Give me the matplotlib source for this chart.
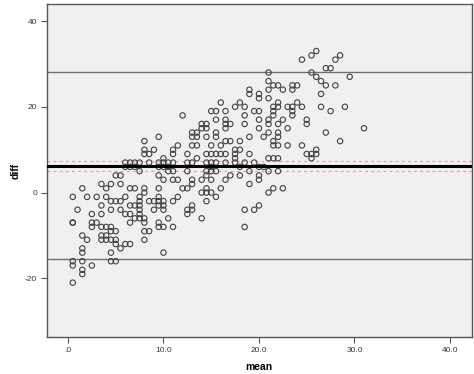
import matplotlib
matplotlib.use("Agg")
import matplotlib.pyplot as plt

plt.rcParams['font.family'] = ['Liberation Sans', 'DejaVu Sans']

# ---- data (mean of two measures, difference) ----
mean_vals = [
    0.5, 0.5, 0.5, 0.5, 0.5, 0.5,
    1.0,
    1.5, 1.5, 1.5, 1.5, 1.5, 1.5, 1.5,
    2.0, 2.0,
    2.5, 2.5, 2.5, 2.5,
    3.0, 3.0,
    3.5, 3.5, 3.5, 3.5, 3.5, 3.5,
    4.0, 4.0, 4.0, 4.0, 4.0,
    4.5, 4.5, 4.5, 4.5, 4.5, 4.5, 4.5, 4.5,
    5.0, 5.0, 5.0, 5.0, 5.0, 5.0,
    5.5, 5.5, 5.5, 5.5, 5.5,
    6.0, 6.0, 6.0, 6.0, 6.0,
    6.5, 6.5, 6.5, 6.5, 6.5, 6.5, 6.5,
    7.0, 7.0, 7.0, 7.0, 7.0,
    7.5, 7.5, 7.5, 7.5, 7.5, 7.5, 7.5, 7.5,
    8.0, 8.0, 8.0, 8.0, 8.0, 8.0, 8.0, 8.0, 8.0,
    8.5, 8.5, 8.5, 8.5,
    9.0, 9.0, 9.0,
    9.5, 9.5, 9.5, 9.5, 9.5, 9.5, 9.5, 9.5, 9.5, 9.5,
    10.0, 10.0, 10.0, 10.0, 10.0, 10.0, 10.0, 10.0, 10.0,
    10.5, 10.5, 10.5, 10.5,
    11.0, 11.0, 11.0, 11.0, 11.0, 11.0, 11.0,
    11.5, 11.5, 11.5,
    12.0, 12.0,
    12.5, 12.5, 12.5, 12.5, 12.5, 12.5,
    13.0, 13.0, 13.0, 13.0, 13.0, 13.0, 13.0, 13.0,
    13.5, 13.5, 13.5, 13.5,
    14.0, 14.0, 14.0, 14.0, 14.0,
    14.5, 14.5, 14.5, 14.5, 14.5, 14.5, 14.5, 14.5, 14.5, 14.5,
    15.0, 15.0, 15.0, 15.0, 15.0, 15.0, 15.0, 15.0,
    15.5, 15.5, 15.5, 15.5, 15.5, 15.5, 15.5, 15.5,
    16.0, 16.0, 16.0, 16.0,
    16.5, 16.5, 16.5, 16.5, 16.5, 16.5, 16.5, 16.5,
    17.0, 17.0, 17.0,
    17.5, 17.5, 17.5, 17.5, 17.5,
    18.0, 18.0, 18.0, 18.0, 18.0,
    18.5, 18.5, 18.5, 18.5, 18.5, 18.5,
    19.0, 19.0, 19.0, 19.0, 19.0, 19.0,
    19.5, 19.5, 19.5,
    20.0, 20.0, 20.0, 20.0, 20.0, 20.0, 20.0, 20.0, 20.0,
    20.5, 20.5,
    21.0, 21.0, 21.0, 21.0, 21.0, 21.0, 21.0, 21.0, 21.0, 21.0,
    21.5, 21.5, 21.5, 21.5, 21.5, 21.5, 21.5, 21.5,
    22.0, 22.0, 22.0, 22.0, 22.0, 22.0, 22.0, 22.0, 22.0,
    22.5, 22.5, 22.5,
    23.0, 23.0, 23.0,
    23.5, 23.5, 23.5, 23.5, 23.5,
    24.0, 24.0,
    24.5, 24.5, 24.5,
    25.0, 25.0, 25.0,
    25.5, 25.5, 25.5, 25.5,
    26.0, 26.0, 26.0, 26.0,
    26.5, 26.5, 26.5,
    27.0, 27.0, 27.0,
    27.5, 27.5,
    28.0, 28.0,
    28.5, 28.5,
    29.0,
    29.5,
    31.0,
]
diff_vals = [
    -1, -7, -7, -16, -17, -21,
    -4,
    1, -10, -13, -14, -16, -18, -19,
    -1, -11,
    -5, -7, -8, -17,
    -1, -7,
    2, -3, -5, -8, -10, -11,
    1, -1, -8, -10, -11,
    2, -2, -4, -8, -9, -11, -14, -16,
    4, -2, -9, -11, -12, -16,
    4, 2, -2, -4, -13,
    7, 6, -1, -5, -12,
    7, 6, 1, -3, -5, -7, -12,
    7, 6, 1, -3, -6,
    7, 5, -1, -2, -3, -4, -5, -6,
    12, 10, 9, 1, 0, -6, -7, -9, -11,
    9, 7, -2, -9,
    10, -2, -4,
    13, 7, 6, 4, 1, -1, -2, -3, -7, -8,
    8, 7, 6, 3, -2, -3, -4, -8, -14,
    7, 6, 5, -6,
    10, 9, 7, 5, 3, -2, -8,
    11, 3, -1,
    18, 1,
    9, 7, 5, 1, -4, -5,
    14, 13, 11, 7, 3, 2, -3, -4,
    14, 13, 11, 8,
    16, 15, 3, 0, -6,
    16, 15, 13, 9, 7, 5, 4, 1, 0, -2,
    19, 11, 9, 7, 6, 5, 3, 0,
    19, 17, 14, 13, 9, 7, 5, -1,
    21, 11, 9, 1,
    19, 17, 16, 15, 12, 9, 7, 3,
    16, 12, 4,
    20, 10, 9, 8, 7,
    21, 12, 10, 6, 4,
    20, 18, 16, 7, -4, -8,
    24, 23, 13, 9, 5, 2,
    19, 7, -4,
    23, 22, 19, 17, 15, 6, 4, 3, -3,
    13, 6,
    28, 26, 24, 22, 17, 16, 14, 8, 5, 0,
    25, 20, 19, 18, 12, 11, 8, 1,
    25, 21, 20, 16, 14, 13, 11, 8, 5,
    24, 17, 1,
    20, 15, 11,
    25, 24, 20, 19, 18,
    25, 21,
    31, 20, 11,
    17, 16, 9,
    32, 28, 9, 8,
    33, 27, 10, 9,
    26, 23, 20,
    29, 25, 14,
    29, 19,
    31, 25,
    32, 12,
    20,
    27,
    15,
]

mean_diff = 6.2
ci_upper = 7.4
ci_lower = 5.1
loa_upper = 28.0
loa_lower = -15.4

x_ticks = [0, 10, 20, 30, 40]
x_tick_labels = [".0", "10.0", "20.0", "30.0", "40.0"]
y_ticks = [40, 20, 0, -20]
y_tick_labels = ["40", "20", "0", "-20"]

# ---- figure ----
fig = plt.figure(figsize=(4.74, 3.74), dpi=100)
fig.patch.set_facecolor("white")
ax = fig.add_axes([0.0985, 0.098, 0.8965, 0.8905])
ax.set_facecolor("#f0f0f0")

ax.scatter(mean_vals, diff_vals, s=15, facecolors="none",
           edgecolors="#404040", linewidths=0.8, zorder=3)

ax.axhline(loa_upper, color="#707070", lw=1.0, zorder=2)
ax.axhline(loa_lower, color="#707070", lw=1.0, zorder=2)
ax.axhline(ci_upper, color="#e89a9a", lw=0.8, ls=(0, (2.5, 3)), zorder=2)
ax.axhline(ci_lower, color="#e89a9a", lw=0.8, ls=(0, (2.5, 3)), zorder=2)
ax.axhline(mean_diff, color="black", lw=2.2, zorder=4)

ax.set_xlim(-2.23, 42.27)
ax.set_ylim(-33.75, 43.9)

ax.set_xticks(x_ticks)
ax.set_xticklabels(x_tick_labels)
ax.set_yticks(y_ticks)
ax.set_yticklabels(y_tick_labels)
ax.tick_params(axis="both", direction="out", length=4, width=0.8,
               color="#555555", labelsize=6, labelcolor="#333333", pad=3)

for side in ["left", "bottom", "top", "right"]:
    ax.spines[side].set_color("#555555")
    ax.spines[side].set_linewidth(1.0)

ax.set_xlabel("mean", fontsize=7.5, fontweight="bold", labelpad=6)
ax.set_ylabel("diff", fontsize=7.5, fontweight="bold", labelpad=3)

fig.savefig("out.png", dpi=100)
